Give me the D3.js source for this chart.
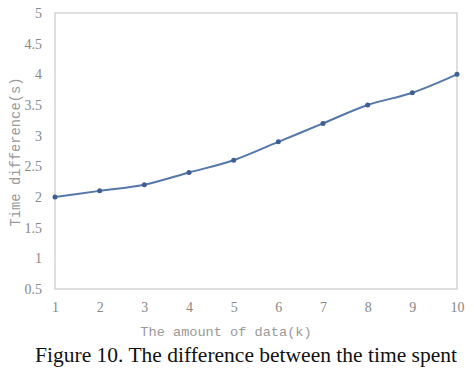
<!DOCTYPE html>
<html><head><meta charset="utf-8">
<script src="https://cdn.jsdelivr.net/npm/d3@7"></script>
<style>body{margin:0;background:#fff}</style>
</head><body><svg id="c" width="474" height="369"></svg>
<script>
const xValues = [1,2,3,4,5,6,7,8,9,10];
const yValues = [2.0,2.1,2.2,2.4,2.6,2.9,3.2,3.5,3.7,4.0];
const yTicks = [0.5,1,1.5,2,2.5,3,3.5,4,4.5,5];
const xTitle = "The amount of data(k)";
const yTitle = "Time difference(s)";
const caption = "Figure 10. The difference between the time spent";

const svg = d3.select("#c");
const L=55,R=457,T=13,B=289;
const x = d3.scaleLinear().domain([1,10]).range([L,R]);
const y = d3.scaleLinear().domain([0.5,5]).range([B,T]);

svg.append("rect").attr("x",L).attr("y",T).attr("width",R-L).attr("height",B-T)
  .attr("fill","none").attr("stroke","#d4d4d4").attr("stroke-width",1.5);

const yAx = svg.append("g").attr("transform",`translate(${L-13},0)`)
  .call(d3.axisLeft(y).tickValues(yTicks).tickSize(0).tickPadding(0).tickFormat(d=>d));
yAx.select(".domain").remove();
yAx.selectAll("text").attr("font-family","Liberation Serif").attr("font-size",14).attr("fill","#888");

const xAx = svg.append("g").attr("transform",`translate(0,${B+13})`)
  .call(d3.axisBottom(x).tickValues(xValues).tickSize(0).tickPadding(0).tickFormat(d=>d));
xAx.select(".domain").remove();
xAx.selectAll("text").attr("font-family","Liberation Serif").attr("font-size",14).attr("fill","#888");

svg.append("text").attr("x",(L+R)/2 - 30).attr("y",336).attr("text-anchor","middle")
  .attr("font-family","Liberation Mono").attr("font-size",13.6).attr("fill","#999").text(xTitle);
svg.append("text").attr("transform",`translate(20,${152}) rotate(-90)`).attr("text-anchor","middle")
  .attr("font-family","Liberation Mono").attr("font-size",13.8).attr("fill","#999").text(yTitle);

const data = xValues.map((d,i)=>({x:d,y:yValues[i]}));
svg.append("path").datum(data).attr("fill","none").attr("stroke","#5577aa").attr("stroke-width",2)
  .attr("d",d3.line().x(d=>x(d.x)).y(d=>y(d.y)).curve(d3.curveMonotoneX));
svg.selectAll("circle.p").data(data).join("circle").attr("class","p")
  .attr("cx",d=>x(d.x)).attr("cy",d=>y(d.y)).attr("r",2.5).attr("fill","#3f5f92");

svg.append("text").attr("x",246).attr("y",362).attr("text-anchor","middle")
  .attr("font-family","Liberation Serif").attr("font-size",21.5).attr("fill","#111").text(caption);
</script></body></html>
